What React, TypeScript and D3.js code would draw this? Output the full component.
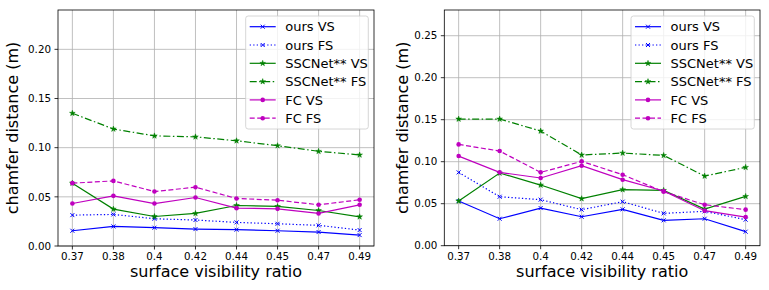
import React from "react";
import * as d3 from "d3";

const categories = ["0.37", "0.38", "0.4", "0.42", "0.44", "0.45", "0.47", "0.49"];
const seriesNames = ["ours VS", "ours FS", "SSCNet** VS", "SSCNet** FS", "FC VS", "FC FS"];

// left panel
const leftOursVS = [0.0155, 0.0199, 0.0186, 0.0172, 0.0166, 0.0155, 0.0142, 0.0111];
const leftOursFS = [0.0314, 0.0321, 0.0277, 0.0264, 0.024, 0.0226, 0.021, 0.0162];
const leftSscVS = [0.0639, 0.0375, 0.03, 0.0331, 0.0412, 0.0402, 0.0361, 0.0297];
const leftSscFS = [0.135, 0.119, 0.112, 0.111, 0.107, 0.102, 0.0963, 0.0926];
const leftFcVS = [0.0432, 0.051, 0.0432, 0.0493, 0.0385, 0.0378, 0.0331, 0.0419];
const leftFcFS = [0.0639, 0.0662, 0.0554, 0.0598, 0.0483, 0.0466, 0.0419, 0.047];

// right panel
const rightOursVS = [0.0532, 0.0321, 0.0448, 0.0345, 0.0433, 0.0302, 0.0321, 0.0167];
const rightOursFS = [0.0873, 0.0583, 0.0548, 0.0429, 0.0524, 0.0385, 0.0409, 0.031];
const rightSscVS = [0.0532, 0.0865, 0.0722, 0.056, 0.0667, 0.0659, 0.0437, 0.0587];
const rightSscFS = [0.1508, 0.1508, 0.1365, 0.108, 0.1103, 0.1075, 0.0829, 0.0933];
const rightFcVS = [0.1067, 0.0873, 0.0806, 0.0952, 0.0786, 0.0651, 0.0417, 0.0341];
const rightFcFS = [0.1206, 0.1127, 0.0873, 0.1004, 0.0845, 0.0643, 0.0488, 0.0429];

const leftYTicks = [0, 0.05, 0.1, 0.15, 0.2];
const rightYTicks = [0, 0.05, 0.1, 0.15, 0.2, 0.25];

const BLUE = "#0000ff";
const GREEN = "#008000";
const MAG = "#bf00bf";

const styles = [
  { color: BLUE, dash: "none", marker: "x" },
  { color: BLUE, dash: "1.3,2.2", marker: "x" },
  { color: GREEN, dash: "none", marker: "star" },
  { color: GREEN, dash: "7,2.5,1.5,2.5", marker: "star" },
  { color: MAG, dash: "none", marker: "dot" },
  { color: MAG, dash: "5,2.5", marker: "dot" },
];

const FONT = "DejaVu Sans, sans-serif";

function Marker({ type, x, y, color }: { type: string; x: number; y: number; color: string }) {
  if (type === "x") {
    const s = 2;
    return (
      <path
        d={`M${x - s},${y - s}L${x + s},${y + s}M${x - s},${y + s}L${x + s},${y - s}`}
        stroke={color}
        strokeWidth={1}
        fill="none"
      />
    );
  }
  if (type === "star") {
    const sym = d3.symbol().type(d3.symbolStar).size(10)();
    return <path d={sym || ""} transform={`translate(${x},${y})`} fill={color} stroke={color} strokeWidth={0.5} />;
  }
  return <circle cx={x} cy={y} r={2.3} fill={color} />;
}

type PanelProps = {
  left: number;
  right: number;
  top: number;
  bottom: number;
  yMax: number;
  yTicks: number[];
  series: number[][];
  ylabelX: number;
  legendW: number;
};

function Panel({ left, right, top, bottom, yMax, yTicks, series, ylabelX, legendW }: PanelProps) {
  const x = d3.scaleLinear().domain([-0.35, categories.length - 1 + 0.35]).range([left, right]);
  const y = d3.scaleLinear().domain([0, yMax]).range([bottom, top]);
  const line = d3
    .line<number>()
    .x((_, i) => x(i))
    .y((d) => y(d));
  const fmt = d3.format(".2f");
  const lgRight = right - 5.7;
  const lgTop = top + 6;
  const lgLeft = lgRight - legendW;
  const rowH = 18.3;
  const lgH = 113;
  return (
    <g>
      {categories.map((c, i) => (
        <line key={"gx" + i} x1={x(i)} x2={x(i)} y1={top} y2={bottom} stroke="#b0b0b0" strokeWidth={0.8} />
      ))}
      {yTicks.map((t, i) => (
        <line key={"gy" + i} x1={left} x2={right} y1={y(t)} y2={y(t)} stroke="#b0b0b0" strokeWidth={0.8} />
      ))}
      {series.map((s, si) => (
        <g key={"s" + si}>
          <path
            d={line(s) || ""}
            fill="none"
            stroke={styles[si].color}
            strokeWidth={1.2}
            strokeDasharray={styles[si].dash}
          />
          {s.map((v, i) => (
            <Marker key={i} type={styles[si].marker} x={x(i)} y={y(v)} color={styles[si].color} />
          ))}
        </g>
      ))}
      <rect x={left} y={top} width={right - left} height={bottom - top} fill="none" stroke="#000" strokeWidth={0.8} />
      {categories.map((c, i) => (
        <g key={"xt" + i}>
          <line x1={x(i)} x2={x(i)} y1={bottom} y2={bottom + 3.5} stroke="#000" strokeWidth={0.8} />
          <text x={x(i)} y={bottom + 13.8} textAnchor="middle" fontSize={10.3} fontFamily={FONT} fill="#000">
            {c}
          </text>
        </g>
      ))}
      {yTicks.map((t, i) => (
        <g key={"yt" + i}>
          <line x1={left - 3.5} x2={left} y1={y(t)} y2={y(t)} stroke="#000" strokeWidth={0.8} />
          <text x={left - 7} y={y(t)} dy="0.36em" textAnchor="end" fontSize={10.3} fontFamily={FONT} fill="#000">
            {fmt(t)}
          </text>
        </g>
      ))}
      <text x={(left + right) / 2} y={277} textAnchor="middle" fontSize={16} fontFamily={FONT} fill="#000">
        surface visibility ratio
      </text>
      <text
        transform={`translate(${ylabelX},${(top + bottom) / 2}) rotate(-90)`}
        textAnchor="middle"
        fontSize={16}
        fontFamily={FONT}
        fill="#000"
      >
        chamfer distance (m)
      </text>
      <rect
        x={lgLeft}
        y={lgTop}
        width={legendW}
        height={lgH}
        rx={2.5}
        fill="#fff"
        fillOpacity={0.8}
        stroke="#cccccc"
        strokeWidth={0.8}
      />
      {seriesNames.map((n, i) => {
        const cy = lgTop + 10.7 + i * rowH;
        const x1 = lgLeft + 4;
        const x2 = x1 + 26;
        return (
          <g key={"lg" + i}>
            <line x1={x1} x2={x2} y1={cy} y2={cy} stroke={styles[i].color} strokeWidth={1.2} strokeDasharray={styles[i].dash} />
            <Marker type={styles[i].marker} x={(x1 + x2) / 2} y={cy} color={styles[i].color} />
            <text x={lgLeft + 39.5} y={cy} dy="0.36em" fontSize={13} fontFamily={FONT} fill="#000">
              {n}
            </text>
          </g>
        );
      })}
    </g>
  );
}

export default function App() {
  return (
    <svg width={769} height={290} style={{ position: "absolute", left: 0, top: 0, background: "#fff" }}>
      <rect width={769} height={290} fill="#fff" />
      <Panel
        left={58}
        right={374}
        top={10}
        bottom={246}
        yMax={0.24}
        yTicks={leftYTicks}
        series={[leftOursVS, leftOursFS, leftSscVS, leftSscFS, leftFcVS, leftFcFS]}
        ylabelX={18}
        legendW={122.6}
      />
      <Panel
        left={444.3}
        right={760}
        top={10}
        bottom={245.7}
        yMax={0.2806}
        yTicks={rightYTicks}
        series={[rightOursVS, rightOursFS, rightSscVS, rightSscFS, rightFcVS, rightFcFS]}
        ylabelX={408}
        legendW={123.3}
      />
    </svg>
  );
}
